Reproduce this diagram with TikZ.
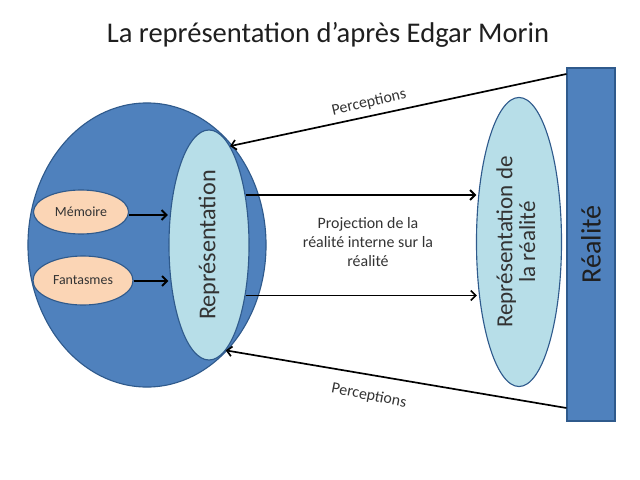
\documentclass[tikz,border=0pt]{standalone}
\usepackage{fontspec}
\usepackage{graphicx}
\setmainfont{Carlito}
\usetikzlibrary{shapes.geometric,arrows.meta}
\definecolor{bluefill}{HTML}{4F81BD}
\definecolor{blueline}{HTML}{2F5A8C}
\definecolor{lightfill}{HTML}{B7DEE8}
\definecolor{peachfill}{HTML}{FBD5B5}
\definecolor{textgrey}{HTML}{333333}
\newcommand{\uptext}[1]{\rotatebox{90}{#1}}
\begin{document}
\begin{tikzpicture}
	[x=.025cm,y=-.025cm,
	main node/.style={shape=ellipse,draw=blueline,line width=.8pt,inner sep=0pt},
	blue node/.style={main node,fill=bluefill},
	rep node/.style={main node,fill=lightfill,text=textgrey,font=\fontsize{17.2}{16}\selectfont},
	small node/.style={main node,fill=peachfill,text=textgrey,font=\fontsize{9.9}{13}\selectfont},
	note/.style={text=textgrey,font=\fontsize{11.3}{13.5}\selectfont,align=center},
	tip/.style={-{Straight Barb[length=3.5pt,width=7pt]}},
	stop short/.style={shorten >=1.4pt}]
	\useasboundingbox (0,0) rectangle (640,480);
	\node [font=\fontsize{20.3}{25}\selectfont,text=textgrey!60!black] (title) at (328,35) {La représentation d’après Edgar Morin};
	
	\node [blue node,minimum width=5.95cm,minimum height=7.1cm] (psyche) at (147,245) {};
	\node [rep node,minimum width=2cm,minimum height=5.75cm] (rep) at (209,245) {\uptext{Représentation}};
	\node [small node,minimum width=2.375cm,minimum height=1.1cm] (memoire) at (81,212) {Mémoire};
	\node [small node,minimum width=2.5cm,minimum height=1.225cm] (fantasmes) at (83,280.5) {Fantasmes};
	\node [rep node,font=\fontsize{16.4}{15.6}\selectfont,minimum width=2.125cm,minimum height=7.225cm] (repreal) at (519,242) {\uptext{\begin{tabular}{@{}c@{}}Représentation de\\la réalité\end{tabular}}};
	\node [draw=blueline,fill=bluefill,line width=.8pt,inner sep=0pt,text=textgrey!60!black,minimum width=1.2cm,minimum height=8.825cm,font=\fontsize{20}{24}\selectfont] (realite) at (591,244.5) {\uptext{Réalité}};
	
	\node [note] (projection) at (368,242) {Projection de la\\réalité interne sur la\\réalité};
	\node [note,rotate=13] (percup) at (369,102.5) {Perceptions};
	\node [note,rotate=-11] (percdown) at (369,396) {Perceptions};
	
	\coordinate (memline) at (0,215);
	\coordinate (fanline) at (0,281);
	\coordinate (projtop) at (0,195);
	\coordinate (projlow) at (0,295.5);
	\coordinate (realtop) at (realite.west |- 0,74);
	\coordinate (reallow) at (realite.west |- 0,408);
	
	\path[every edge/.style={draw,line width=1.2pt,tip}]
	(memoire.east |- memline) edge[line width=1.4pt,stop short] (rep.142 |- memline)
	(fantasmes.east |- fanline) edge[line width=1.4pt,stop short] (rep.223 |- fanline)
	(rep.54 |- projtop) edge[line width=1.4pt,stop short] (repreal.130 |- projtop)
	(rep.-54.5 |- projlow) edge[stop short] (repreal.233.6 |- projlow)
	(realtop) edge (rep.78.4)
	(reallow) edge (rep.-81.2)
	;
	
\end{tikzpicture}
\end{document}
